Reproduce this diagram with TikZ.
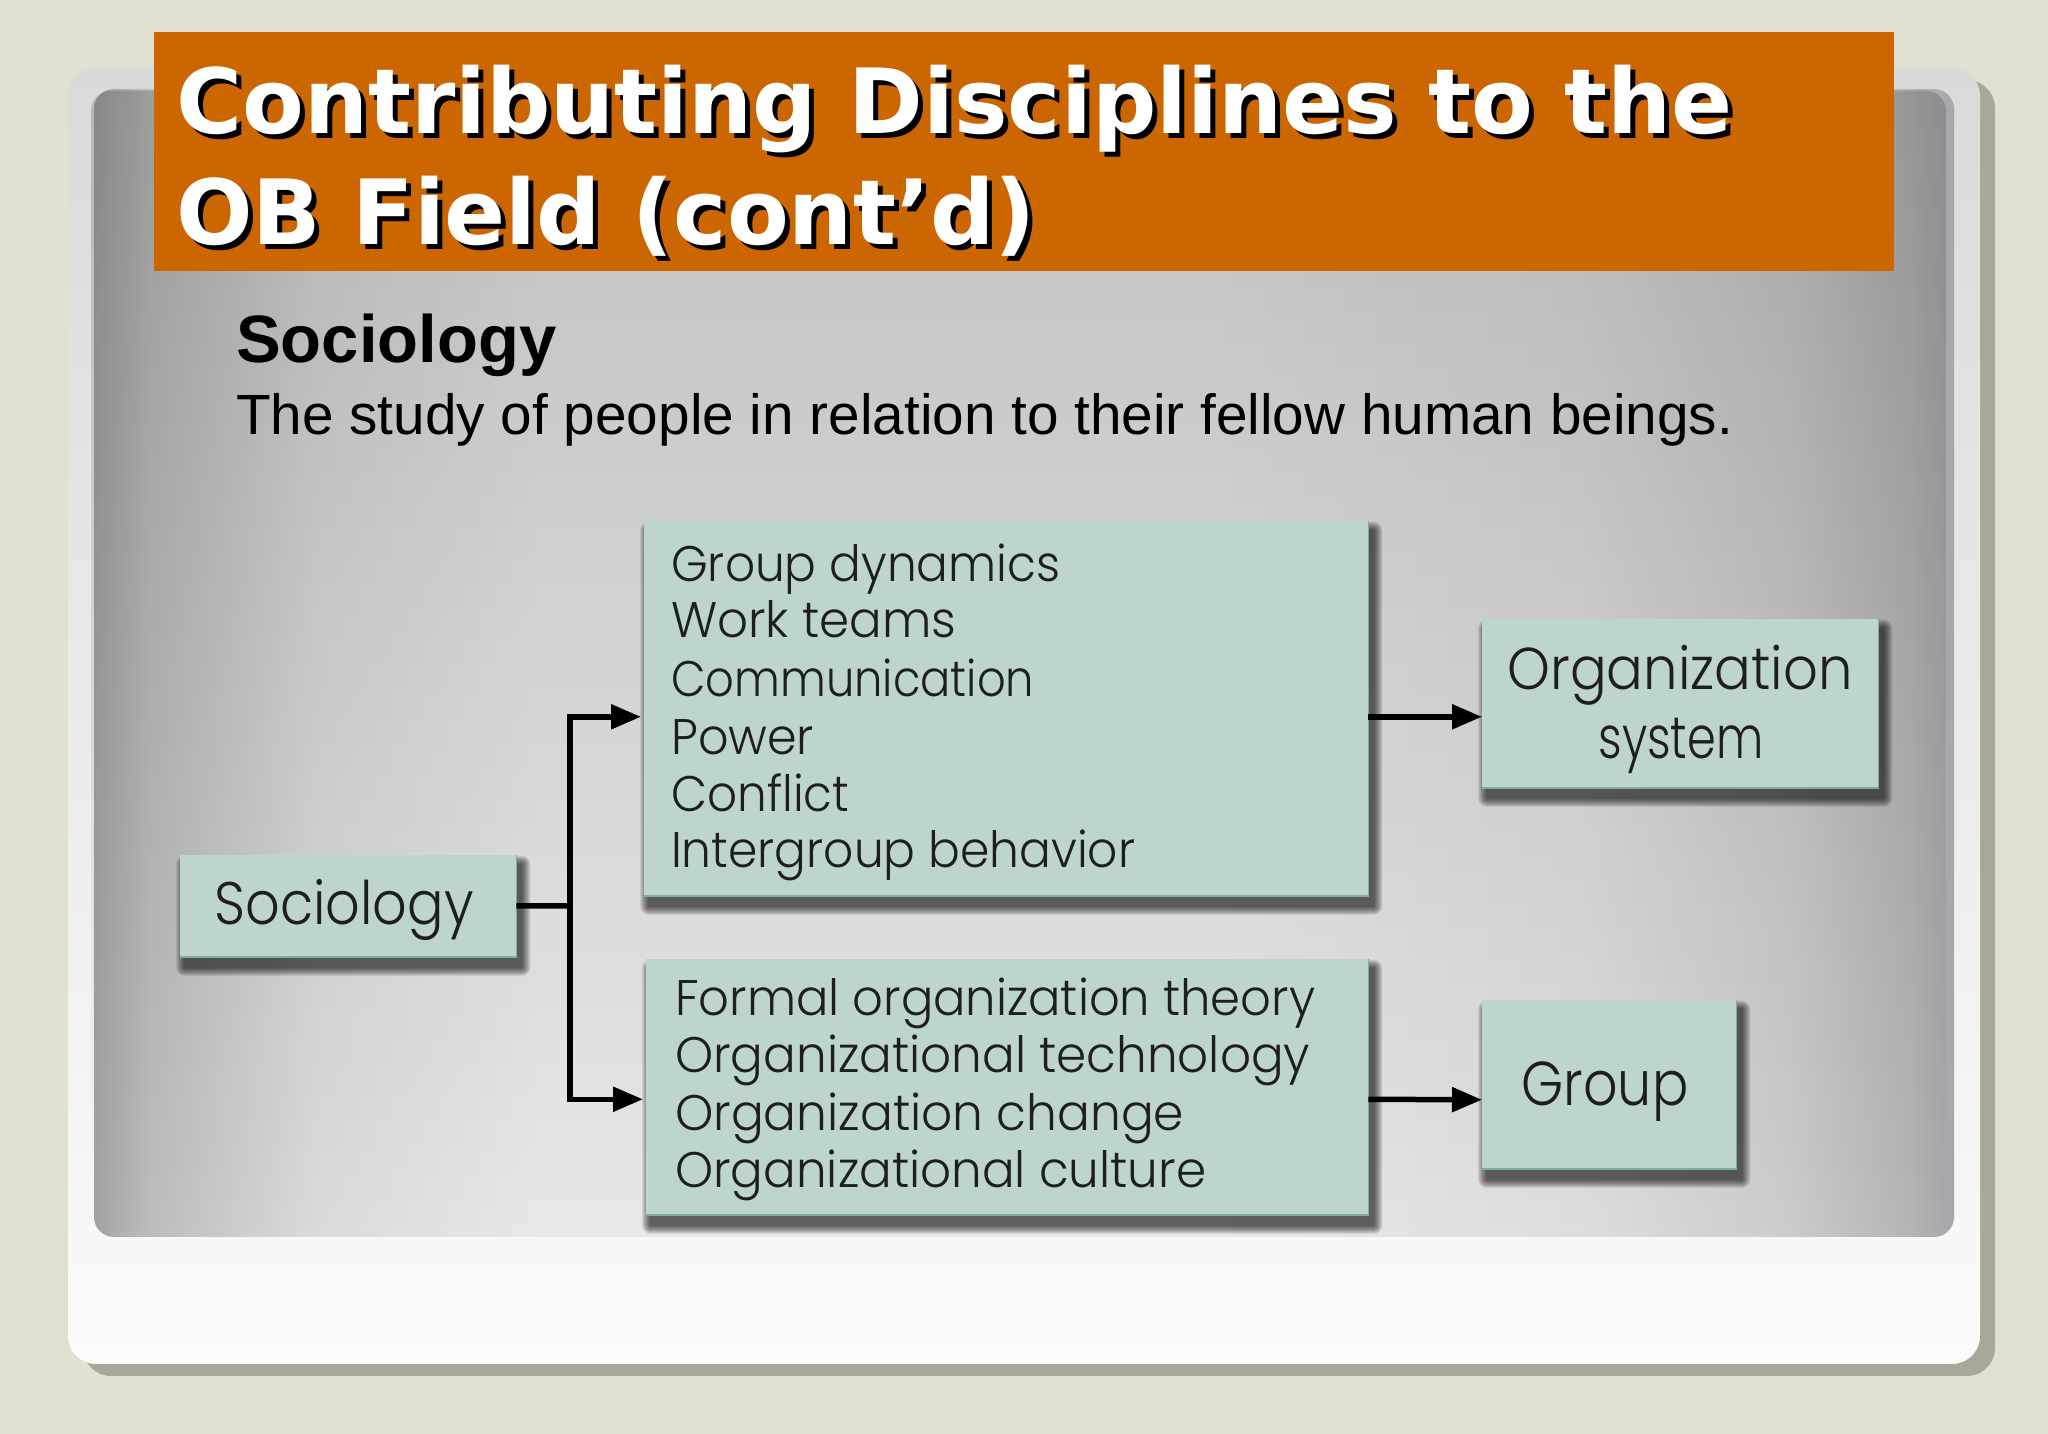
\documentclass[tikz,border=0pt]{standalone}
\usepackage{fontspec}
\usepackage{graphicx}
\usetikzlibrary{arrows.meta,fadings,calc}
\newfontfamily\ttlfont{DejaVu Sans}
\newfontfamily\arialfont{Liberation Sans}
\newfontfamily\futfont{Poppins Light}
\definecolor{bgbeige}{HTML}{E2DFD3}
\definecolor{cardshadow}{HTML}{A9A79A}
\definecolor{cardtop}{HTML}{DADADA}
\definecolor{cardbot}{HTML}{FCFBF9}
\definecolor{titleorange}{HTML}{CC6600}
\definecolor{boxfill}{HTML}{BDD5CB}
\definecolor{boxedge}{HTML}{7FAE9F}
\definecolor{boxtext}{HTML}{1E1E1E}
\pgfdeclarehorizontalshading{panelshade}{100bp}{rgb(0bp)=(.64,.64,.64); rgb(25bp)=(.64,.64,.64); rgb(26.5bp)=(.74,.74,.74); rgb(31bp)=(.86,.86,.86); rgb(37bp)=(.91,.91,.91); rgb(55bp)=(.91,.91,.91); rgb(65bp)=(.87,.87,.87); rgb(70.5bp)=(.80,.80,.80); rgb(73.8bp)=(.71,.71,.71); rgb(75bp)=(.65,.65,.67); rgb(100bp)=(.65,.65,.67)}
\pgfdeclarelayer{back}
\pgfdeclarelayer{shadowlayer}
\pgfsetlayers{back,shadowlayer,main}
\newcommand{\fitw}[2]{\resizebox{#1}{\height}{#2}}
\newcommand{\shadowed}[1]{\makebox[0pt][l]{\hspace*{5pt}\raisebox{-5pt}{\color{black}#1}}#1}
\tikzset{
  bx/.style={fill=boxfill, inner sep=0pt, anchor=south west},
  ttl/.style={font=\ttlfont\bfseries\fontsize{90}{108}\selectfont, text=white, inner sep=0pt, anchor=base west},
  lst/.style={font=\futfont\fontsize{50}{57}\selectfont, text=boxtext, inner sep=0pt, anchor=base west},
  big/.style={font=\futfont\fontsize{60}{68}\selectfont, text=boxtext, inner sep=0pt, anchor=base},
  conn/.style={line width=5.5pt, black},
  arr/.style={conn, -{Triangle[length=30pt,width=24pt]}},
}
\begin{document}
\begin{tikzpicture}[x=1pt,y=1pt]
\useasboundingbox (0,0) rectangle (2048,1434);
\begin{pgfonlayer}{back}
\fill[bgbeige] (0,0) rectangle (2048,1434);
\fill[cardshadow, rounded corners=28pt] (83,58) rectangle (1995,1354);
\shade[top color=cardtop, bottom color=cardbot, rounded corners=28pt] (68,70) rectangle (1980,1366);
\shade[shading=panelshade, rounded corners=20pt] (94,197) rectangle (1954,1345);
\fill[black, opacity=0.17, path fading=south, rounded corners=20pt] (94,197) rectangle (1954,1345);
\fill[titleorange] (154,1163) rectangle (1894,1402);
\end{pgfonlayer}

% title
\node[ttl] (t1) at (176,1300) {\shadowed{Contributing Disciplines to the}};
\node[ttl] (t2) at (176,1189) {\shadowed{OB Field (cont’d)}};

% heading and definition
\node[font=\arialfont\bfseries\fontsize{67}{80}\selectfont, inner sep=0pt, anchor=base west] (head) at (236,1071) {Sociology};
\node[font=\arialfont\fontsize{56.7}{68}\selectfont, inner sep=0pt, anchor=base west] (defn) at (236,999) {The study of people in relation to their fellow human beings.};

% boxes
\node[bx, minimum width=336pt, minimum height=102pt] (socbox) at (180,477) {};
\node[bx, minimum width=724pt, minimum height=375pt] (topbox) at (644,538) {};
\node[bx, minimum width=722pt, minimum height=256pt] (botbox) at (646,219) {};
\node[bx, minimum width=396pt, minimum height=169pt] (orgbox) at (1482,646) {};
\node[bx, minimum width=254pt, minimum height=169pt] (grpbox) at (1482,265) {};

\foreach \n in {socbox,topbox,botbox,orgbox,grpbox}{
  \draw[boxedge, line width=1.5pt] (\n.south west) -- (\n.south east) -- (\n.north east);
}

\begin{pgfonlayer}{shadowlayer}
\foreach \n in {socbox,topbox,botbox,orgbox,grpbox}{
  \foreach \k [evaluate=\k as \s using 9-\k] in {0,...,8}{
    \fill[black, opacity=0.09, rounded corners=\s pt]
      ($(\n.south west)+(5-\s,-10-\s)$) rectangle ($(\n.north east)+(5+\s,-10+\s)$);
  }
}
\end{pgfonlayer}

% box texts
\node[big] (soct) at (344,509) {\fitw{259pt}{Sociology}};

\node[lst] (tl1) at (671,852) {\fitw{389pt}{Group dynamics}};
\node[lst] (tl2) at (671,796) {\fitw{285pt}{Work teams}};
\node[lst] (tl3) at (671,737) {\fitw{363pt}{Communication}};
\node[lst] (tl4) at (671,679) {\fitw{143pt}{Power}};
\node[lst] (tl5) at (671,622) {\fitw{178pt}{Conflict}};
\node[lst] (tl6) at (671,566) {\fitw{464pt}{Intergroup behavior}};

\node[lst] (bl1) at (675,418) {\fitw{640pt}{Formal organization theory}};
\node[lst] (bl2) at (675,361) {\fitw{635pt}{Organizational technology}};
\node[lst] (bl3) at (675,303) {\fitw{509pt}{Organization change}};
\node[lst] (bl4) at (675,246) {\fitw{531pt}{Organizational culture}};

\node[big, font=\futfont\fontsize{59}{68}\selectfont] (orgt1) at (1680,744) {\fitw{345pt}{Organization}};
\node[big, font=\futfont\fontsize{59}{68}\selectfont] (orgt2) at (1681,675) {\fitw{165pt}{system}};
\node[big, font=\futfont\fontsize{62}{68}\selectfont] (grpt) at (1605,328) {\fitw{167pt}{Group}};

% connectors
\coordinate (bus) at (570,528);
\draw[conn] (socbox.east) -- (bus);
\draw[arr, shorten >=3pt] (bus) |- ([yshift=-8.5pt]topbox.west);
\draw[arr, shorten >=3pt] (bus) |- ([yshift=-12.5pt]botbox.west);
\draw[arr] ([yshift=-8.5pt]topbox.east) -- ([yshift=-13.5pt]orgbox.west);
\draw[arr] ([yshift=-12.5pt]botbox.east) -- ([yshift=-15.5pt]grpbox.west);
\end{tikzpicture}
\end{document}
